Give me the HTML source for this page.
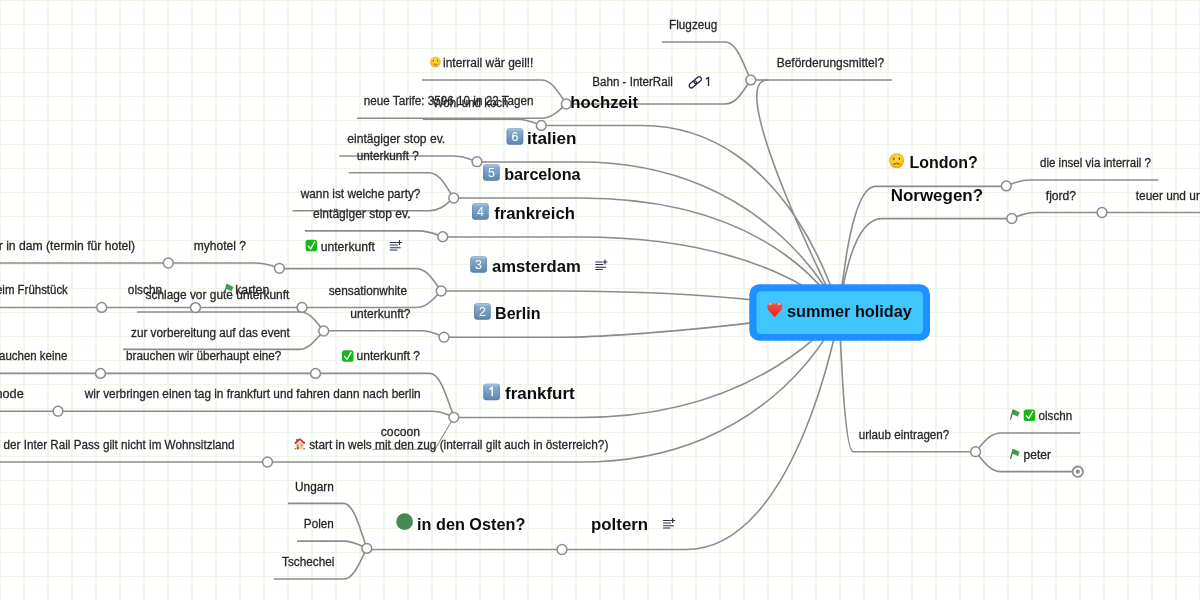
<!DOCTYPE html><html><head><meta charset="utf-8"><style>html,body{margin:0;padding:0;background:#fff;overflow:hidden;width:1200px;height:600px}svg{display:block;will-change:transform}text{font-family:"Liberation Sans",sans-serif}</style></head><body><svg width="1200" height="600" viewBox="0 0 1200 600"><defs><linearGradient id="kc" x1="0" y1="0" x2="0" y2="1"><stop offset="0" stop-color="#c3d5e6"/><stop offset="0.2" stop-color="#86abcf"/><stop offset="1" stop-color="#5e85ad"/></linearGradient><radialGradient id="face" cx="0.5" cy="0.4" r="0.6"><stop offset="0" stop-color="#fde047"/><stop offset="0.7" stop-color="#fbbf24"/><stop offset="1" stop-color="#f29a1c"/></radialGradient><linearGradient id="heart" x1="0" y1="0" x2="0" y2="1"><stop offset="0" stop-color="#f5574a"/><stop offset="1" stop-color="#e41e1e"/></linearGradient></defs><path d="M0 0V600M24 0V600M48 0V600M72 0V600M96 0V600M120 0V600M144 0V600M168 0V600M192 0V600M216 0V600M240 0V600M264 0V600M288 0V600M312 0V600M336 0V600M360 0V600M384 0V600M408 0V600M432 0V600M456 0V600M480 0V600M504 0V600M528 0V600M552 0V600M576 0V600M600 0V600M624 0V600M648 0V600M672 0V600M696 0V600M720 0V600M744 0V600M768 0V600M792 0V600M816 0V600M840 0V600M864 0V600M888 0V600M912 0V600M936 0V600M960 0V600M984 0V600M1008 0V600M1032 0V600M1056 0V600M1080 0V600M1104 0V600M1128 0V600M1152 0V600M1176 0V600M1200 0V600" stroke="#e7f0de" stroke-width="1.1" fill="none"/><path d="M0 0.5H1200M0 24.5H1200M0 48.5H1200M0 72.5H1200M0 96.5H1200M0 120.5H1200M0 144.5H1200M0 168.5H1200M0 192.5H1200M0 216.5H1200M0 240.5H1200M0 264.5H1200M0 288.5H1200M0 312.5H1200M0 336.5H1200M0 360.5H1200M0 384.5H1200M0 408.5H1200M0 432.5H1200M0 456.5H1200M0 480.5H1200M0 504.5H1200M0 528.5H1200M0 552.5H1200M0 576.5H1200M0 600.5H1200" stroke="#edf5e6" stroke-width="1.1" fill="none"/><path d="M839.5 312.5C839.5 312.5 843.3 451.7 853.3 451.7H975.6" stroke="#8c8c8c" stroke-width="1.6" fill="none"/><path d="M839.5 312.5C839.5 312.5 848.5 186.4 875.5 186.4H1006.3" stroke="#8c8c8c" stroke-width="1.6" fill="none"/><path d="M839.5 312.5C839.5 312.5 847.8 218.6 881.9 218.6H1012.0" stroke="#8c8c8c" stroke-width="1.6" fill="none"/><path d="M839.5 312.5C839.5 312.5 721.5 80.0 767.4 80.0H892.0" stroke="#8c8c8c" stroke-width="1.6" fill="none"/><path d="M839.5 312.5C839.5 312.5 791.2 125.5 641.9 125.5H541.3" stroke="#8c8c8c" stroke-width="1.6" fill="none"/><path d="M839.5 312.5C839.5 312.5 773.5 162.0 580.1 162.0H477.0" stroke="#8c8c8c" stroke-width="1.6" fill="none"/><path d="M839.5 312.5C839.5 312.5 782.8 198.0 580.0 198.0H453.7" stroke="#8c8c8c" stroke-width="1.6" fill="none"/><path d="M839.5 312.5C839.5 312.5 771.6 237.0 580.0 237.0H442.7" stroke="#8c8c8c" stroke-width="1.6" fill="none"/><path d="M839.5 312.5C839.5 312.5 747.8 291.0 559.3 291.0H441.2" stroke="#8c8c8c" stroke-width="1.6" fill="none"/><path d="M839.5 312.5C839.5 312.5 651.9 337.2 560.0 337.2H444.0" stroke="#8c8c8c" stroke-width="1.6" fill="none"/><path d="M839.5 312.5C839.5 312.5 763.7 417.5 580.1 417.5H453.8" stroke="#8c8c8c" stroke-width="1.6" fill="none"/><path d="M839.5 312.5C839.5 312.5 776.6 462.0 580.9 462.0H0.0" stroke="#8c8c8c" stroke-width="1.6" fill="none"/><path d="M839.5 312.5C839.5 312.5 798.2 549.5 686.0 549.5H366.8" stroke="#8c8c8c" stroke-width="1.6" fill="none"/><path d="M750.7 80H767.4" stroke="#8c8c8c" stroke-width="1.6" fill="none"/><path d="M662.0 42.0H725.0C736.6 42.0 743.0 62.9 750.7 80.0" stroke="#8c8c8c" stroke-width="1.6" fill="none"/><path d="M566.3 104.0H725.0C736.6 104.0 743.0 90.8 750.7 80.0" stroke="#8c8c8c" stroke-width="1.6" fill="none"/><path d="M422.0 80.0H541.0C552.4 80.0 558.8 93.2 566.4 104.0" stroke="#8c8c8c" stroke-width="1.6" fill="none"/><path d="M357.0 118.3H541.0C552.4 118.3 558.8 110.4 566.4 104.0" stroke="#8c8c8c" stroke-width="1.6" fill="none"/><path d="M423.0 119.3H517.0C527.9 119.3 534.0 122.7 541.3 125.5" stroke="#8c8c8c" stroke-width="1.6" fill="none"/><path d="M339.3 156.0H452.7C463.6 156.0 469.7 159.1 477.0 161.7" stroke="#8c8c8c" stroke-width="1.6" fill="none"/><path d="M348.7 172.7H428.7C439.9 172.7 446.2 186.6 453.7 198.0" stroke="#8c8c8c" stroke-width="1.6" fill="none"/><path d="M292.7 210.7H429.3C440.3 210.7 446.4 203.7 453.7 198.0" stroke="#8c8c8c" stroke-width="1.6" fill="none"/><path d="M305.0 230.9H418.0C429.1 230.9 435.3 234.1 442.7 236.8" stroke="#8c8c8c" stroke-width="1.6" fill="none"/><path d="M0.0 263.0H255.0C266.0 263.0 272.1 265.9 279.4 268.3" stroke="#8c8c8c" stroke-width="1.6" fill="none"/><path d="M279.4 268.6H416.0C427.3 268.6 433.6 280.9 441.2 291.0" stroke="#8c8c8c" stroke-width="1.6" fill="none"/><path d="M0.0 307.5H416.0C427.3 307.5 433.6 298.4 441.2 291.0" stroke="#8c8c8c" stroke-width="1.6" fill="none"/><path d="M137.0 312.0H300.0C310.7 312.0 316.6 322.4 323.7 331.0" stroke="#8c8c8c" stroke-width="1.6" fill="none"/><path d="M123.0 349.4H298.0C309.6 349.4 316.0 339.3 323.7 331.0" stroke="#8c8c8c" stroke-width="1.6" fill="none"/><path d="M323.8 330.8H421.0C431.4 330.8 437.1 334.3 444.0 337.2" stroke="#8c8c8c" stroke-width="1.6" fill="none"/><path d="M0.0 373.4H429.6C440.4 373.4 446.5 397.1 453.7 416.5" stroke="#8c8c8c" stroke-width="1.6" fill="none"/><path d="M0.0 411.2H431.5C441.5 411.2 447.0 414.4 453.7 417.0" stroke="#8c8c8c" stroke-width="1.6" fill="none"/><path d="M288.0 503.4H343.3C353.9 503.4 359.8 528.1 366.8 548.4" stroke="#8c8c8c" stroke-width="1.6" fill="none"/><path d="M297.0 541.1H343.3C353.9 541.1 359.8 545.1 366.8 548.4" stroke="#8c8c8c" stroke-width="1.6" fill="none"/><path d="M273.7 579.0H343.3C353.9 579.0 359.8 562.2 366.8 548.4" stroke="#8c8c8c" stroke-width="1.6" fill="none"/><path d="M1006.3 185.8C1013.4 183.2 1019.3 180.0 1030.0 180.0H1158.3" stroke="#8c8c8c" stroke-width="1.6" fill="none"/><path d="M1012.0 218.3C1019.1 215.7 1025.1 212.5 1035.8 212.5H1200.0" stroke="#8c8c8c" stroke-width="1.6" fill="none"/><path d="M975.6 451.7C983.2 443.3 989.6 433.0 1001.1 433.0H1080.2" stroke="#8c8c8c" stroke-width="1.6" fill="none"/><path d="M975.6 451.7C983.2 460.7 989.6 471.6 1001.1 471.6H1077.6" stroke="#8c8c8c" stroke-width="1.6" fill="none"/><path d="M453.7 417.5L435 449.2H372.5" stroke="#8c8c8c" stroke-width="1.1" fill="none"/><circle cx="750.7" cy="79.9" r="4.9" fill="#fff" stroke="#8c8c8c" stroke-width="1.5"/><circle cx="566.3" cy="104" r="4.9" fill="#fff" stroke="#8c8c8c" stroke-width="1.5"/><circle cx="541.3" cy="125.4" r="4.9" fill="#fff" stroke="#8c8c8c" stroke-width="1.5"/><circle cx="477" cy="161.7" r="4.9" fill="#fff" stroke="#8c8c8c" stroke-width="1.5"/><circle cx="453.7" cy="198" r="4.9" fill="#fff" stroke="#8c8c8c" stroke-width="1.5"/><circle cx="442.7" cy="236.7" r="4.9" fill="#fff" stroke="#8c8c8c" stroke-width="1.5"/><circle cx="168.3" cy="263" r="4.9" fill="#fff" stroke="#8c8c8c" stroke-width="1.5"/><circle cx="279.4" cy="268.3" r="4.9" fill="#fff" stroke="#8c8c8c" stroke-width="1.5"/><circle cx="441.2" cy="291" r="4.9" fill="#fff" stroke="#8c8c8c" stroke-width="1.5"/><circle cx="101.7" cy="307.4" r="4.9" fill="#fff" stroke="#8c8c8c" stroke-width="1.5"/><circle cx="195.5" cy="307.6" r="4.9" fill="#fff" stroke="#8c8c8c" stroke-width="1.5"/><circle cx="302" cy="307.4" r="4.9" fill="#fff" stroke="#8c8c8c" stroke-width="1.5"/><circle cx="323.7" cy="331" r="4.9" fill="#fff" stroke="#8c8c8c" stroke-width="1.5"/><circle cx="444" cy="337.2" r="4.9" fill="#fff" stroke="#8c8c8c" stroke-width="1.5"/><circle cx="100.5" cy="373.4" r="4.9" fill="#fff" stroke="#8c8c8c" stroke-width="1.5"/><circle cx="315.5" cy="373.4" r="4.9" fill="#fff" stroke="#8c8c8c" stroke-width="1.5"/><circle cx="58" cy="411.2" r="4.9" fill="#fff" stroke="#8c8c8c" stroke-width="1.5"/><circle cx="453.8" cy="417.3" r="4.9" fill="#fff" stroke="#8c8c8c" stroke-width="1.5"/><circle cx="267.5" cy="462" r="4.9" fill="#fff" stroke="#8c8c8c" stroke-width="1.5"/><circle cx="366.8" cy="548.4" r="4.9" fill="#fff" stroke="#8c8c8c" stroke-width="1.5"/><circle cx="562" cy="549.5" r="4.9" fill="#fff" stroke="#8c8c8c" stroke-width="1.5"/><circle cx="1006.3" cy="185.9" r="4.9" fill="#fff" stroke="#8c8c8c" stroke-width="1.5"/><circle cx="1011.8" cy="218.5" r="4.9" fill="#fff" stroke="#8c8c8c" stroke-width="1.5"/><circle cx="1102" cy="212.5" r="4.9" fill="#fff" stroke="#8c8c8c" stroke-width="1.5"/><circle cx="975.6" cy="451.7" r="4.9" fill="#fff" stroke="#8c8c8c" stroke-width="1.5"/><circle cx="1077.8" cy="471.7" r="5.2" fill="#fff" stroke="#8c8c8c" stroke-width="1.8"/><circle cx="1077.8" cy="471.7" r="2.1" fill="#8c8c8c"/><rect x="749.3" y="284.2" width="180.7" height="56.6" rx="10" fill="#1f90ff"/><rect x="756.5" y="291.2" width="166.5" height="42.8" rx="4.5" fill="#40c6ff"/><text x="669.06" y="29.40" font-size="12.5" font-weight="normal" fill="#262626" stroke="#262626" stroke-width="0.28" textLength="48.35" lengthAdjust="spacingAndGlyphs">Flugzeug</text><text x="776.64" y="67.00" font-size="12.5" font-weight="normal" fill="#262626" stroke="#262626" stroke-width="0.28" textLength="107.54" lengthAdjust="spacingAndGlyphs">Beförderungsmittel?</text><text x="592.37" y="86.00" font-size="12.5" font-weight="normal" fill="#262626" stroke="#262626" stroke-width="0.28" textLength="80.42" lengthAdjust="spacingAndGlyphs">Bahn - InterRail</text><text x="443.04" y="67.00" font-size="12.5" font-weight="normal" fill="#262626" stroke="#262626" stroke-width="0.28" textLength="90.42" lengthAdjust="spacingAndGlyphs">interrail wär geil!!</text><text x="363.76" y="104.70" font-size="12.5" font-weight="normal" fill="#262626" stroke="#262626" stroke-width="0.28" textLength="169.83" lengthAdjust="spacingAndGlyphs">neue Tarife: 3596 10 in 22 Tagen</text><text x="432.70" y="106.80" font-size="12.5" font-weight="normal" fill="#262626" stroke="#262626" stroke-width="0.28" textLength="75.73" lengthAdjust="spacingAndGlyphs">Wohl und koch</text><text x="347.30" y="142.60" font-size="12.5" font-weight="normal" fill="#262626" stroke="#262626" stroke-width="0.28" textLength="97.89" lengthAdjust="spacingAndGlyphs">eintägiger stop ev.</text><text x="356.70" y="160.00" font-size="12.5" font-weight="normal" fill="#262626" stroke="#262626" stroke-width="0.28" textLength="62.01" lengthAdjust="spacingAndGlyphs">unterkunft ?</text><text x="300.70" y="197.70" font-size="12.5" font-weight="normal" fill="#262626" stroke="#262626" stroke-width="0.28" textLength="119.73" lengthAdjust="spacingAndGlyphs">wann ist welche party?</text><text x="313.00" y="217.70" font-size="12.5" font-weight="normal" fill="#262626" stroke="#262626" stroke-width="0.28" textLength="97.49" lengthAdjust="spacingAndGlyphs">eintägiger stop ev.</text><text x="320.70" y="250.50" font-size="12.5" font-weight="normal" fill="#262626" stroke="#262626" stroke-width="0.28" textLength="54.10" lengthAdjust="spacingAndGlyphs">unterkunft</text><text x="-1.27" y="250.40" font-size="12.5" font-weight="normal" fill="#262626" stroke="#262626" stroke-width="0.28" textLength="136.39" lengthAdjust="spacingAndGlyphs">r in dam (termin für hotel)</text><text x="193.74" y="249.80" font-size="12.5" font-weight="normal" fill="#262626" stroke="#262626" stroke-width="0.28" textLength="52.16" lengthAdjust="spacingAndGlyphs">myhotel ?</text><text x="-4.00" y="294.20" font-size="12.5" font-weight="normal" fill="#262626" stroke="#262626" stroke-width="0.28" textLength="71.84" lengthAdjust="spacingAndGlyphs">eim Frühstück</text><text x="127.80" y="294.20" font-size="12.5" font-weight="normal" fill="#262626" stroke="#262626" stroke-width="0.28" textLength="34.33" lengthAdjust="spacingAndGlyphs">olschn</text><text x="145.50" y="299.00" font-size="12.5" font-weight="normal" fill="#262626" stroke="#262626" stroke-width="0.28" textLength="143.81" lengthAdjust="spacingAndGlyphs">schlage vor gute unterkunft</text><text x="235.22" y="293.70" font-size="12.5" font-weight="normal" fill="#262626" stroke="#262626" stroke-width="0.28" textLength="34.01" lengthAdjust="spacingAndGlyphs">karten</text><text x="328.70" y="294.70" font-size="12.5" font-weight="normal" fill="#262626" stroke="#262626" stroke-width="0.28" textLength="78.32" lengthAdjust="spacingAndGlyphs">sensationwhite</text><text x="350.30" y="318.20" font-size="12.5" font-weight="normal" fill="#262626" stroke="#262626" stroke-width="0.28" textLength="60.23" lengthAdjust="spacingAndGlyphs">unterkunft?</text><text x="131.00" y="337.00" font-size="12.5" font-weight="normal" fill="#262626" stroke="#262626" stroke-width="0.28" textLength="158.87" lengthAdjust="spacingAndGlyphs">zur vorbereitung auf das event</text><text x="-1.00" y="360.20" font-size="12.5" font-weight="normal" fill="#262626" stroke="#262626" stroke-width="0.28" textLength="68.34" lengthAdjust="spacingAndGlyphs">auchen keine</text><text x="126.06" y="360.00" font-size="12.5" font-weight="normal" fill="#262626" stroke="#262626" stroke-width="0.28" textLength="155.32" lengthAdjust="spacingAndGlyphs">brauchen wir überhaupt eine?</text><text x="356.60" y="360.20" font-size="12.5" font-weight="normal" fill="#262626" stroke="#262626" stroke-width="0.28" textLength="63.42" lengthAdjust="spacingAndGlyphs">unterkunft ?</text><text x="-4.51" y="398.30" font-size="12.5" font-weight="normal" fill="#262626" stroke="#262626" stroke-width="0.28" textLength="28.22" lengthAdjust="spacingAndGlyphs">node</text><text x="84.80" y="398.30" font-size="12.5" font-weight="normal" fill="#262626" stroke="#262626" stroke-width="0.28" textLength="335.79" lengthAdjust="spacingAndGlyphs">wir verbringen einen tag in frankfurt und fahren dann nach berlin</text><text x="380.80" y="436.30" font-size="12.5" font-weight="normal" fill="#262626" stroke="#262626" stroke-width="0.28" textLength="39.20" lengthAdjust="spacingAndGlyphs">cocoon</text><text x="3.50" y="448.70" font-size="12.5" font-weight="normal" fill="#262626" stroke="#262626" stroke-width="0.28" textLength="231.10" lengthAdjust="spacingAndGlyphs">der Inter Rail Pass gilt nicht im Wohnsitzland</text><text x="309.20" y="448.50" font-size="12.5" font-weight="normal" fill="#262626" stroke="#262626" stroke-width="0.28" textLength="299.19" lengthAdjust="spacingAndGlyphs">start in wels mit den zug (interrail gilt auch in österreich?)</text><text x="295.06" y="490.50" font-size="12.5" font-weight="normal" fill="#262626" stroke="#262626" stroke-width="0.28" textLength="38.75" lengthAdjust="spacingAndGlyphs">Ungarn</text><text x="303.86" y="528.30" font-size="12.5" font-weight="normal" fill="#262626" stroke="#262626" stroke-width="0.28" textLength="29.92" lengthAdjust="spacingAndGlyphs">Polen</text><text x="282.00" y="566.20" font-size="12.5" font-weight="normal" fill="#262626" stroke="#262626" stroke-width="0.28" textLength="52.36" lengthAdjust="spacingAndGlyphs">Tschechei</text><text x="858.70" y="439.00" font-size="12.5" font-weight="normal" fill="#262626" stroke="#262626" stroke-width="0.28" textLength="90.58" lengthAdjust="spacingAndGlyphs">urlaub eintragen?</text><text x="1038.60" y="420.30" font-size="12.5" font-weight="normal" fill="#262626" stroke="#262626" stroke-width="0.28" textLength="33.53" lengthAdjust="spacingAndGlyphs">olschn</text><text x="1023.54" y="458.50" font-size="12.5" font-weight="normal" fill="#262626" stroke="#262626" stroke-width="0.28" textLength="27.38" lengthAdjust="spacingAndGlyphs">peter</text><text x="1040.00" y="167.20" font-size="12.5" font-weight="normal" fill="#262626" stroke="#262626" stroke-width="0.28" textLength="110.99" lengthAdjust="spacingAndGlyphs">die insel via interrail ?</text><text x="1045.80" y="199.70" font-size="12.5" font-weight="normal" fill="#262626" stroke="#262626" stroke-width="0.28" textLength="30.27" lengthAdjust="spacingAndGlyphs">fjord?</text><text x="1135.80" y="199.70" font-size="12.5" font-weight="normal" fill="#262626" stroke="#262626" stroke-width="0.28" textLength="85.83" lengthAdjust="spacingAndGlyphs">teuer und unklar</text><text x="570.32" y="107.60" font-size="17" font-weight="bold" fill="#0d0d0d" stroke="#0d0d0d" stroke-width="0.0" textLength="67.63" lengthAdjust="spacingAndGlyphs">hochzeit</text><text x="526.99" y="143.70" font-size="17" font-weight="bold" fill="#0d0d0d" stroke="#0d0d0d" stroke-width="0.0" textLength="49.44" lengthAdjust="spacingAndGlyphs">italien</text><text x="504.25" y="180.00" font-size="17" font-weight="bold" fill="#0d0d0d" stroke="#0d0d0d" stroke-width="0.0" textLength="76.30" lengthAdjust="spacingAndGlyphs">barcelona</text><text x="494.20" y="218.70" font-size="17" font-weight="bold" fill="#0d0d0d" stroke="#0d0d0d" stroke-width="0.0" textLength="80.68" lengthAdjust="spacingAndGlyphs">frankreich</text><text x="492.00" y="271.70" font-size="17" font-weight="bold" fill="#0d0d0d" stroke="#0d0d0d" stroke-width="0.0" textLength="88.70" lengthAdjust="spacingAndGlyphs">amsterdam</text><text x="495.06" y="318.60" font-size="17" font-weight="bold" fill="#0d0d0d" stroke="#0d0d0d" stroke-width="0.0" textLength="45.46" lengthAdjust="spacingAndGlyphs">Berlin</text><text x="505.00" y="399.00" font-size="17" font-weight="bold" fill="#0d0d0d" stroke="#0d0d0d" stroke-width="0.0" textLength="69.71" lengthAdjust="spacingAndGlyphs">frankfurt</text><text x="417.04" y="530.00" font-size="17" font-weight="bold" fill="#0d0d0d" stroke="#0d0d0d" stroke-width="0.0" textLength="108.28" lengthAdjust="spacingAndGlyphs">in den Osten?</text><text x="591.01" y="530.00" font-size="17" font-weight="bold" fill="#0d0d0d" stroke="#0d0d0d" stroke-width="0.0" textLength="57.10" lengthAdjust="spacingAndGlyphs">poltern</text><text x="909.56" y="168.20" font-size="17" font-weight="bold" fill="#0d0d0d" stroke="#0d0d0d" stroke-width="0.0" textLength="68.30" lengthAdjust="spacingAndGlyphs">London?</text><text x="890.70" y="200.80" font-size="17" font-weight="bold" fill="#0d0d0d" stroke="#0d0d0d" stroke-width="0.0" textLength="92.36" lengthAdjust="spacingAndGlyphs">Norwegen?</text><text x="787.04" y="317.00" font-size="17" font-weight="bold" fill="#0d0d0d" stroke="#0d0d0d" stroke-width="0.0" textLength="124.86" lengthAdjust="spacingAndGlyphs">summer holiday</text><g transform="translate(506.5 128.0)"><rect x="0" y="0" width="16.8" height="16.8" rx="3.2" fill="url(#kc)"/><rect x="0.6" y="0.6" width="15.600000000000001" height="15.600000000000001" rx="2.8" fill="none" stroke="#4a6d93" stroke-opacity="0.35" stroke-width="0.8"/><text x="8.4" y="12.9" font-size="12.5" font-weight="normal" fill="#fff" text-anchor="middle">6</text></g><g transform="translate(483.0 164.0)"><rect x="0" y="0" width="16.8" height="16.8" rx="3.2" fill="url(#kc)"/><rect x="0.6" y="0.6" width="15.600000000000001" height="15.600000000000001" rx="2.8" fill="none" stroke="#4a6d93" stroke-opacity="0.35" stroke-width="0.8"/><text x="8.4" y="12.9" font-size="12.5" font-weight="normal" fill="#fff" text-anchor="middle">5</text></g><g transform="translate(472.0 203.0)"><rect x="0" y="0" width="16.8" height="16.8" rx="3.2" fill="url(#kc)"/><rect x="0.6" y="0.6" width="15.600000000000001" height="15.600000000000001" rx="2.8" fill="none" stroke="#4a6d93" stroke-opacity="0.35" stroke-width="0.8"/><text x="8.4" y="12.9" font-size="12.5" font-weight="normal" fill="#fff" text-anchor="middle">4</text></g><g transform="translate(470.2 256.0)"><rect x="0" y="0" width="16.8" height="16.8" rx="3.2" fill="url(#kc)"/><rect x="0.6" y="0.6" width="15.600000000000001" height="15.600000000000001" rx="2.8" fill="none" stroke="#4a6d93" stroke-opacity="0.35" stroke-width="0.8"/><text x="8.4" y="12.9" font-size="12.5" font-weight="normal" fill="#fff" text-anchor="middle">3</text></g><g transform="translate(474.0 303.0)"><rect x="0" y="0" width="16.8" height="16.8" rx="3.2" fill="url(#kc)"/><rect x="0.6" y="0.6" width="15.600000000000001" height="15.600000000000001" rx="2.8" fill="none" stroke="#4a6d93" stroke-opacity="0.35" stroke-width="0.8"/><text x="8.4" y="12.9" font-size="12.5" font-weight="normal" fill="#fff" text-anchor="middle">2</text></g><g transform="translate(483.2 383.5)"><rect x="0" y="0" width="16.8" height="16.8" rx="3.2" fill="url(#kc)"/><rect x="0.6" y="0.6" width="15.600000000000001" height="15.600000000000001" rx="2.8" fill="none" stroke="#4a6d93" stroke-opacity="0.35" stroke-width="0.8"/><path d="M6.20 5.80L9.00 3.80V12.80" stroke="#fff" stroke-width="1.5" fill="none" stroke-linejoin="round"/></g><g transform="translate(305.6 239.8)"><rect width="11.5" height="11.5" rx="2.5" fill="#14b814"/><path d="M2.6 6.3L5 9L9.1 2.1" stroke="#fff" stroke-width="1.4" fill="none" stroke-linecap="round" stroke-linejoin="round"/></g><g transform="translate(342.0 350.3)"><rect width="11.5" height="11.5" rx="2.5" fill="#14b814"/><path d="M2.6 6.3L5 9L9.1 2.1" stroke="#fff" stroke-width="1.4" fill="none" stroke-linecap="round" stroke-linejoin="round"/></g><g transform="translate(1023.7 409.4)"><rect width="11.5" height="11.5" rx="2.5" fill="#14b814"/><path d="M2.6 6.3L5 9L9.1 2.1" stroke="#fff" stroke-width="1.4" fill="none" stroke-linecap="round" stroke-linejoin="round"/></g><g transform="translate(1010.2 409.2)"><path d="M3 0.3L0.3 10.4" stroke="#5a5a5a" stroke-width="1.2"/><path d="M3 0.3C5 0.6 7 2.3 9.6 3.3C8.8 4.6 8.2 6 7.6 7.6C6 6.6 4.5 5.8 1.8 5.4Z" fill="#3f9d50"/></g><g transform="translate(1010.2 448.6)"><path d="M3 0.3L0.3 10.4" stroke="#5a5a5a" stroke-width="1.2"/><path d="M3 0.3C5 0.6 7 2.3 9.6 3.3C8.8 4.6 8.2 6 7.6 7.6C6 6.6 4.5 5.8 1.8 5.4Z" fill="#3f9d50"/></g><g transform="translate(224.0 283.8)"><path d="M3 0.3L0.3 10.4" stroke="#5a5a5a" stroke-width="1.2"/><path d="M3 0.3C5 0.6 7 2.3 9.6 3.3C8.8 4.6 8.2 6 7.6 7.6C6 6.6 4.5 5.8 1.8 5.4Z" fill="#3f9d50"/></g><g transform="translate(595.3 260.5)" stroke="#2c2c48" stroke-width="1.1" stroke-linecap="round"><path d="M0.5 1.5H6.5M0.5 4H7.5M0.5 6.7H10.5M0.5 9H7"/><path d="M9.7 -0.5V3.5M7.7 1.5H11.7" stroke-width="1.2"/></g><g transform="translate(389.8 241.0)" stroke="#2c2c48" stroke-width="1.1" stroke-linecap="round"><path d="M0.5 1.5H6.5M0.5 4H7.5M0.5 6.7H10.5M0.5 9H7"/><path d="M9.7 -0.5V3.5M7.7 1.5H11.7" stroke-width="1.2"/></g><g transform="translate(663.0 519.0)" stroke="#2c2c48" stroke-width="1.1" stroke-linecap="round"><path d="M0.5 1.5H6.5M0.5 4H7.5M0.5 6.7H10.5M0.5 9H7"/><path d="M9.7 -0.5V3.5M7.7 1.5H11.7" stroke-width="1.2"/></g><g transform="translate(695.3 82.3) rotate(-40)" stroke="#262640" stroke-width="1.3" fill="none"><rect x="-7.3" y="-2.3" width="8.4" height="4.6" rx="2.3"/><rect x="-1.1" y="-2.3" width="8.4" height="4.6" rx="2.3"/></g><path d="M706 79.3L708.5 77.4V86.1" stroke="#262640" stroke-width="1.35" fill="none" stroke-linejoin="round"/><path d="M774.7 304.6C773.2 301.6 767.2 301.2 767.2 306.6C767.2 310.6 772 313.8 774.7 317.3C777.4 313.8 782.3 310.6 782.3 306.6C782.3 301.2 776.2 301.6 774.7 304.6Z" fill="url(#heart)"/><ellipse cx="770.3" cy="303.9" rx="1.8" ry="0.9" fill="#fff" fill-opacity="0.6"/><ellipse cx="779.1" cy="303.9" rx="1.8" ry="0.9" fill="#fff" fill-opacity="0.6"/><circle cx="896.6" cy="160.6" r="7.6" fill="url(#face)"/><ellipse cx="893.86" cy="158.70" rx="0.76" ry="1.22" fill="#6b4010"/><ellipse cx="899.34" cy="158.70" rx="0.76" ry="1.22" fill="#6b4010"/><path d="M893.41 164.40Q896.60 162.12 899.79 164.40" stroke="#6b4010" stroke-width="1" fill="none"/><circle cx="435.4" cy="61.9" r="5.3" fill="url(#face)"/><ellipse cx="433.49" cy="60.57" rx="0.53" ry="0.85" fill="#6b4010"/><ellipse cx="437.31" cy="60.57" rx="0.53" ry="0.85" fill="#6b4010"/><path d="M433.81 64.28H436.99" stroke="#8a5a1a" stroke-width="0.8" fill="none"/><circle cx="404.6" cy="521.6" r="8.4" fill="#468a52"/><g transform="translate(294.5 438.5)"><rect x="1.5" y="3.8" width="7.6" height="7" fill="#f2d2a6"/><path d="M0.3 5L5.3 0.6L10.3 5" stroke="#c0393b" stroke-width="1.8" fill="none" stroke-linejoin="round"/><rect x="1.8" y="0.5" width="1.6" height="3" fill="#b83234"/><circle cx="3.3" cy="7" r="1.1" fill="#6aa7e0"/><circle cx="7.3" cy="7" r="1.1" fill="#6aa7e0"/><rect x="2.6" y="8.3" width="1.6" height="2.5" fill="#8b4a2a"/><rect x="0" y="9.6" width="1.8" height="1.4" fill="#5bae4a"/><rect x="8.8" y="9.6" width="1.8" height="1.4" fill="#5bae4a"/></g></svg></body></html>
